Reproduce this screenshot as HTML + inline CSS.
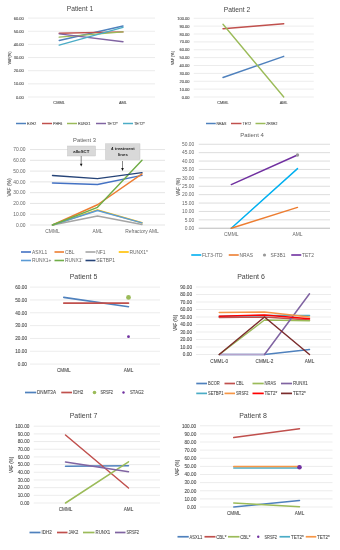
<!DOCTYPE html>
<html><head><meta charset="utf-8"><title>Figure</title>
<style>
html,body{margin:0;padding:0;background:#fff;}
svg{display:block;font-family:"Liberation Sans",sans-serif;}
</style></head><body>
<svg width="340" height="550" viewBox="0 0 340 550">
<rect width="340" height="550" fill="#fff"/>
<g style="filter:blur(0.3px)">
<g>
<text x="80.00" y="10.91" font-size="6.70" text-anchor="middle" fill="#454545">Patient 1</text>
<line x1="28.00" y1="97.00" x2="155.00" y2="97.00" stroke="#d9d9d9" stroke-width="0.5"/>
<text x="23.80" y="98.50" font-size="4.18" text-anchor="end" fill="#505050" stroke="#505050" stroke-width="0.1" textLength="7.80" lengthAdjust="spacingAndGlyphs">0.00</text>
<line x1="28.00" y1="83.85" x2="155.00" y2="83.85" stroke="#d9d9d9" stroke-width="0.5"/>
<text x="23.80" y="85.35" font-size="4.18" text-anchor="end" fill="#505050" stroke="#505050" stroke-width="0.1" textLength="10.03" lengthAdjust="spacingAndGlyphs">10.00</text>
<line x1="28.00" y1="70.70" x2="155.00" y2="70.70" stroke="#d9d9d9" stroke-width="0.5"/>
<text x="23.80" y="72.20" font-size="4.18" text-anchor="end" fill="#505050" stroke="#505050" stroke-width="0.1" textLength="10.03" lengthAdjust="spacingAndGlyphs">20.00</text>
<line x1="28.00" y1="57.55" x2="155.00" y2="57.55" stroke="#d9d9d9" stroke-width="0.5"/>
<text x="23.80" y="59.05" font-size="4.18" text-anchor="end" fill="#505050" stroke="#505050" stroke-width="0.1" textLength="10.03" lengthAdjust="spacingAndGlyphs">30.00</text>
<line x1="28.00" y1="44.40" x2="155.00" y2="44.40" stroke="#d9d9d9" stroke-width="0.5"/>
<text x="23.80" y="45.90" font-size="4.18" text-anchor="end" fill="#505050" stroke="#505050" stroke-width="0.1" textLength="10.03" lengthAdjust="spacingAndGlyphs">40.00</text>
<line x1="28.00" y1="31.25" x2="155.00" y2="31.25" stroke="#d9d9d9" stroke-width="0.5"/>
<text x="23.80" y="32.75" font-size="4.18" text-anchor="end" fill="#505050" stroke="#505050" stroke-width="0.1" textLength="10.03" lengthAdjust="spacingAndGlyphs">50.00</text>
<line x1="28.00" y1="18.10" x2="155.00" y2="18.10" stroke="#d9d9d9" stroke-width="0.5"/>
<text x="23.80" y="19.60" font-size="4.18" text-anchor="end" fill="#505050" stroke="#505050" stroke-width="0.1" textLength="10.03" lengthAdjust="spacingAndGlyphs">60.00</text>
<text x="59.20" y="104.30" font-size="4.18" text-anchor="middle" fill="#505050" stroke="#505050" stroke-width="0.1" textLength="11.72" lengthAdjust="spacingAndGlyphs">CMML</text>
<text x="123.00" y="104.30" font-size="4.18" text-anchor="middle" fill="#505050" stroke="#505050" stroke-width="0.1" textLength="8.16" lengthAdjust="spacingAndGlyphs">AML</text>
<polyline points="59.20,40.46 123.00,25.99" fill="none" stroke="#4f81bd" stroke-width="1.4" stroke-linecap="round" stroke-linejoin="round"/>
<polyline points="59.20,33.22 123.00,31.91" fill="none" stroke="#c0504d" stroke-width="1.4" stroke-linecap="round" stroke-linejoin="round"/>
<polyline points="59.20,37.17 123.00,31.91" fill="none" stroke="#9bbb59" stroke-width="1.4" stroke-linecap="round" stroke-linejoin="round"/>
<polyline points="59.20,33.88 123.00,41.77" fill="none" stroke="#8064a2" stroke-width="1.4" stroke-linecap="round" stroke-linejoin="round"/>
<polyline points="59.20,45.06 123.00,27.31" fill="none" stroke="#4bacc6" stroke-width="1.4" stroke-linecap="round" stroke-linejoin="round"/>
<line x1="16.00" y1="123.50" x2="26.00" y2="123.50" stroke="#4f81bd" stroke-width="1.5"/>
<text x="27.00" y="125.00" font-size="4.18" text-anchor="start" fill="#505050" stroke="#505050" stroke-width="0.1" textLength="9.18" lengthAdjust="spacingAndGlyphs">EZH2</text>
<line x1="42.00" y1="123.50" x2="52.00" y2="123.50" stroke="#c0504d" stroke-width="1.5"/>
<text x="53.00" y="125.00" font-size="4.18" text-anchor="start" fill="#505050" stroke="#505050" stroke-width="0.1" textLength="9.27" lengthAdjust="spacingAndGlyphs">PHF6</text>
<line x1="67.00" y1="123.50" x2="77.00" y2="123.50" stroke="#9bbb59" stroke-width="1.5"/>
<text x="78.00" y="125.00" font-size="4.18" text-anchor="start" fill="#505050" stroke="#505050" stroke-width="0.1" textLength="12.57" lengthAdjust="spacingAndGlyphs">RUNX1</text>
<line x1="96.00" y1="123.50" x2="106.00" y2="123.50" stroke="#8064a2" stroke-width="1.5"/>
<text x="107.00" y="125.00" font-size="4.18" text-anchor="start" fill="#505050" stroke="#505050" stroke-width="0.1" textLength="10.85" lengthAdjust="spacingAndGlyphs">TET2*</text>
<line x1="123.00" y1="123.50" x2="133.00" y2="123.50" stroke="#4bacc6" stroke-width="1.5"/>
<text x="134.00" y="125.00" font-size="4.18" text-anchor="start" fill="#505050" stroke="#505050" stroke-width="0.1" textLength="10.85" lengthAdjust="spacingAndGlyphs">TET2*</text>
<text transform="translate(11.00,58.00) rotate(-90)" font-size="4.18" text-anchor="middle" fill="#505050" textLength="12.87" lengthAdjust="spacingAndGlyphs" stroke="#505050" stroke-width="0.1">VAF(%)</text>
</g>
<g>
<text x="237.00" y="11.91" font-size="6.70" text-anchor="middle" fill="#454545">Patient 2</text>
<line x1="193.75" y1="97.00" x2="313.75" y2="97.00" stroke="#d9d9d9" stroke-width="0.5"/>
<text x="189.50" y="98.50" font-size="4.18" text-anchor="end" fill="#505050" stroke="#505050" stroke-width="0.1" textLength="7.80" lengthAdjust="spacingAndGlyphs">0.00</text>
<line x1="193.75" y1="89.12" x2="313.75" y2="89.12" stroke="#d9d9d9" stroke-width="0.5"/>
<text x="189.50" y="90.63" font-size="4.18" text-anchor="end" fill="#505050" stroke="#505050" stroke-width="0.1" textLength="10.03" lengthAdjust="spacingAndGlyphs">10.00</text>
<line x1="193.75" y1="81.25" x2="313.75" y2="81.25" stroke="#d9d9d9" stroke-width="0.5"/>
<text x="189.50" y="82.75" font-size="4.18" text-anchor="end" fill="#505050" stroke="#505050" stroke-width="0.1" textLength="10.03" lengthAdjust="spacingAndGlyphs">20.00</text>
<line x1="193.75" y1="73.38" x2="313.75" y2="73.38" stroke="#d9d9d9" stroke-width="0.5"/>
<text x="189.50" y="74.88" font-size="4.18" text-anchor="end" fill="#505050" stroke="#505050" stroke-width="0.1" textLength="10.03" lengthAdjust="spacingAndGlyphs">30.00</text>
<line x1="193.75" y1="65.50" x2="313.75" y2="65.50" stroke="#d9d9d9" stroke-width="0.5"/>
<text x="189.50" y="67.00" font-size="4.18" text-anchor="end" fill="#505050" stroke="#505050" stroke-width="0.1" textLength="10.03" lengthAdjust="spacingAndGlyphs">40.00</text>
<line x1="193.75" y1="57.62" x2="313.75" y2="57.62" stroke="#d9d9d9" stroke-width="0.5"/>
<text x="189.50" y="59.13" font-size="4.18" text-anchor="end" fill="#505050" stroke="#505050" stroke-width="0.1" textLength="10.03" lengthAdjust="spacingAndGlyphs">50.00</text>
<line x1="193.75" y1="49.75" x2="313.75" y2="49.75" stroke="#d9d9d9" stroke-width="0.5"/>
<text x="189.50" y="51.25" font-size="4.18" text-anchor="end" fill="#505050" stroke="#505050" stroke-width="0.1" textLength="10.03" lengthAdjust="spacingAndGlyphs">60.00</text>
<line x1="193.75" y1="41.88" x2="313.75" y2="41.88" stroke="#d9d9d9" stroke-width="0.5"/>
<text x="189.50" y="43.38" font-size="4.18" text-anchor="end" fill="#505050" stroke="#505050" stroke-width="0.1" textLength="10.03" lengthAdjust="spacingAndGlyphs">70.00</text>
<line x1="193.75" y1="34.00" x2="313.75" y2="34.00" stroke="#d9d9d9" stroke-width="0.5"/>
<text x="189.50" y="35.50" font-size="4.18" text-anchor="end" fill="#505050" stroke="#505050" stroke-width="0.1" textLength="10.03" lengthAdjust="spacingAndGlyphs">80.00</text>
<line x1="193.75" y1="26.12" x2="313.75" y2="26.12" stroke="#d9d9d9" stroke-width="0.5"/>
<text x="189.50" y="27.63" font-size="4.18" text-anchor="end" fill="#505050" stroke="#505050" stroke-width="0.1" textLength="10.03" lengthAdjust="spacingAndGlyphs">90.00</text>
<line x1="193.75" y1="18.25" x2="313.75" y2="18.25" stroke="#d9d9d9" stroke-width="0.5"/>
<text x="189.50" y="19.75" font-size="4.18" text-anchor="end" fill="#505050" stroke="#505050" stroke-width="0.1" textLength="12.26" lengthAdjust="spacingAndGlyphs">100.00</text>
<text x="223.00" y="104.30" font-size="4.18" text-anchor="middle" fill="#505050" stroke="#505050" stroke-width="0.1" textLength="11.72" lengthAdjust="spacingAndGlyphs">CMML</text>
<text x="283.75" y="104.30" font-size="4.18" text-anchor="middle" fill="#505050" stroke="#505050" stroke-width="0.1" textLength="8.16" lengthAdjust="spacingAndGlyphs">AML</text>
<polyline points="223.00,77.47 283.75,56.29" fill="none" stroke="#4f81bd" stroke-width="1.4" stroke-linecap="round" stroke-linejoin="round"/>
<polyline points="223.00,28.72 283.75,23.76" fill="none" stroke="#c0504d" stroke-width="1.4" stroke-linecap="round" stroke-linejoin="round"/>
<polyline points="223.00,24.23 283.75,97.00" fill="none" stroke="#9bbb59" stroke-width="1.4" stroke-linecap="round" stroke-linejoin="round"/>
<line x1="206.00" y1="123.50" x2="215.75" y2="123.50" stroke="#4f81bd" stroke-width="1.5"/>
<text x="216.50" y="125.00" font-size="4.18" text-anchor="start" fill="#505050" stroke="#505050" stroke-width="0.1" textLength="9.80" lengthAdjust="spacingAndGlyphs">NRAS</text>
<line x1="231.00" y1="123.50" x2="241.50" y2="123.50" stroke="#c0504d" stroke-width="1.5"/>
<text x="242.50" y="125.00" font-size="4.18" text-anchor="start" fill="#505050" stroke="#505050" stroke-width="0.1" textLength="8.66" lengthAdjust="spacingAndGlyphs">TET2</text>
<line x1="255.50" y1="123.50" x2="265.50" y2="123.50" stroke="#9bbb59" stroke-width="1.5"/>
<text x="266.30" y="125.00" font-size="4.18" text-anchor="start" fill="#505050" stroke="#505050" stroke-width="0.1" textLength="11.09" lengthAdjust="spacingAndGlyphs">ZRSR2</text>
<text transform="translate(174.00,58.00) rotate(-90)" font-size="4.18" text-anchor="middle" fill="#505050" textLength="13.87" lengthAdjust="spacingAndGlyphs" stroke="#505050" stroke-width="0.1">VAF (%)</text>
</g>
<g>
<text x="84.50" y="141.59" font-size="5.80" text-anchor="middle" fill="#606060">Patient 3</text>
<line x1="30.00" y1="225.00" x2="165.00" y2="225.00" stroke="#d4d4d4" stroke-width="0.6"/>
<text x="25.50" y="226.76" font-size="4.90" text-anchor="end" fill="#666666">0.00</text>
<line x1="30.00" y1="214.22" x2="165.00" y2="214.22" stroke="#d4d4d4" stroke-width="0.6"/>
<text x="25.50" y="215.98" font-size="4.90" text-anchor="end" fill="#666666">10.00</text>
<line x1="30.00" y1="203.44" x2="165.00" y2="203.44" stroke="#d4d4d4" stroke-width="0.6"/>
<text x="25.50" y="205.20" font-size="4.90" text-anchor="end" fill="#666666">20.00</text>
<line x1="30.00" y1="192.66" x2="165.00" y2="192.66" stroke="#d4d4d4" stroke-width="0.6"/>
<text x="25.50" y="194.42" font-size="4.90" text-anchor="end" fill="#666666">30.00</text>
<line x1="30.00" y1="181.88" x2="165.00" y2="181.88" stroke="#d4d4d4" stroke-width="0.6"/>
<text x="25.50" y="183.64" font-size="4.90" text-anchor="end" fill="#666666">40.00</text>
<line x1="30.00" y1="171.10" x2="165.00" y2="171.10" stroke="#d4d4d4" stroke-width="0.6"/>
<text x="25.50" y="172.86" font-size="4.90" text-anchor="end" fill="#666666">50.00</text>
<line x1="30.00" y1="160.32" x2="165.00" y2="160.32" stroke="#d4d4d4" stroke-width="0.6"/>
<text x="25.50" y="162.08" font-size="4.90" text-anchor="end" fill="#666666">60.00</text>
<line x1="30.00" y1="149.54" x2="165.00" y2="149.54" stroke="#d4d4d4" stroke-width="0.6"/>
<text x="25.50" y="151.30" font-size="4.90" text-anchor="end" fill="#666666">70.00</text>
<text x="52.50" y="233.26" font-size="4.90" text-anchor="middle" fill="#666666">CMML</text>
<text x="97.50" y="233.26" font-size="4.90" text-anchor="middle" fill="#666666">AML</text>
<text x="142.00" y="233.26" font-size="4.90" text-anchor="middle" fill="#666666">Refractory AML</text>
<polyline points="52.50,182.96 97.50,184.57 142.00,175.41" fill="none" stroke="#4472c4" stroke-width="1.45" stroke-linecap="round" stroke-linejoin="round"/>
<polyline points="52.50,225.00 97.50,204.73 142.00,173.80" fill="none" stroke="#ed7d31" stroke-width="1.45" stroke-linecap="round" stroke-linejoin="round"/>
<polyline points="52.50,225.00 97.50,216.05 142.00,224.46" fill="none" stroke="#a5a5a5" stroke-width="1.45" stroke-linecap="round" stroke-linejoin="round"/>
<polyline points="52.50,225.00 97.50,210.02 142.00,222.74" fill="none" stroke="#ffc000" stroke-width="1.45" stroke-linecap="round" stroke-linejoin="round"/>
<polyline points="52.50,225.00 97.50,210.55 142.00,222.84" fill="none" stroke="#5b9bd5" stroke-width="1.45" stroke-linecap="round" stroke-linejoin="round"/>
<polyline points="52.50,225.00 97.50,207.32 142.00,160.32" fill="none" stroke="#70ad47" stroke-width="1.45" stroke-linecap="round" stroke-linejoin="round"/>
<polyline points="52.50,175.41 97.50,178.65 142.00,172.61" fill="none" stroke="#264478" stroke-width="1.45" stroke-linecap="round" stroke-linejoin="round"/>
<line x1="21.00" y1="252.00" x2="31.00" y2="252.00" stroke="#4472c4" stroke-width="1.6"/>
<text x="32.00" y="253.76" font-size="4.90" text-anchor="start" fill="#666666">ASXL1</text>
<line x1="54.50" y1="252.00" x2="64.00" y2="252.00" stroke="#ed7d31" stroke-width="1.6"/>
<text x="65.00" y="253.76" font-size="4.90" text-anchor="start" fill="#666666">CBL</text>
<line x1="85.50" y1="252.00" x2="95.50" y2="252.00" stroke="#a5a5a5" stroke-width="1.6"/>
<text x="96.30" y="253.76" font-size="4.90" text-anchor="start" fill="#666666">NF1</text>
<line x1="118.75" y1="252.00" x2="128.75" y2="252.00" stroke="#ffc000" stroke-width="1.6"/>
<text x="129.50" y="253.76" font-size="4.90" text-anchor="start" fill="#666666">RUNX1*</text>
<line x1="21.00" y1="260.50" x2="31.00" y2="260.50" stroke="#5b9bd5" stroke-width="1.6"/>
<text x="32.00" y="262.26" font-size="4.90" text-anchor="start" fill="#666666">RUNX1+</text>
<line x1="54.50" y1="260.50" x2="64.00" y2="260.50" stroke="#70ad47" stroke-width="1.6"/>
<text x="65.00" y="262.26" font-size="4.90" text-anchor="start" fill="#666666">RUNX1'</text>
<line x1="85.50" y1="260.50" x2="95.50" y2="260.50" stroke="#264478" stroke-width="1.6"/>
<text x="96.30" y="262.26" font-size="4.90" text-anchor="start" fill="#666666">SETBP1</text>
<text transform="translate(11.30,187.50) rotate(-90)" font-size="4.90" text-anchor="middle" fill="#666666" stroke="#666666" stroke-width="0.1">VAF (%)</text>
</g>
<rect x="67.5" y="146" width="28" height="10" fill="#d9d9d9" stroke="#bdbdbd" stroke-width="0.4"/>
<text x="81.30" y="152.60" font-size="4.30" text-anchor="middle" fill="#222" font-weight="bold">alloSCT</text>
<rect x="105.5" y="143.8" width="34.5" height="15.7" fill="#d9d9d9" stroke="#bdbdbd" stroke-width="0.4"/>
<text x="122.90" y="149.90" font-size="4.40" text-anchor="middle" fill="#222" font-weight="bold">4 treatment</text>
<text x="122.90" y="155.90" font-size="4.40" text-anchor="middle" fill="#222" font-weight="bold">lines</text>
<line x1="81.20" y1="156.00" x2="81.20" y2="165.10" stroke="#111" stroke-width="0.5"/>
<polygon points="79.90,163.80 82.50,163.80 81.20,166.60" fill="#111"/>
<line x1="122.50" y1="161.00" x2="122.50" y2="169.40" stroke="#111" stroke-width="0.5"/>
<polygon points="121.20,168.10 123.80,168.10 122.50,170.90" fill="#111"/>
<g>
<text x="252.00" y="136.66" font-size="6.00" text-anchor="middle" fill="#606060">Patient 4</text>
<line x1="198.75" y1="228.25" x2="330.00" y2="228.25" stroke="#cfcfcf" stroke-width="0.7"/>
<text x="194.25" y="230.01" font-size="4.90" text-anchor="end" fill="#666666">0.00</text>
<line x1="198.75" y1="219.85" x2="330.00" y2="219.85" stroke="#cfcfcf" stroke-width="0.7"/>
<text x="194.25" y="221.61" font-size="4.90" text-anchor="end" fill="#666666">5.00</text>
<line x1="198.75" y1="211.45" x2="330.00" y2="211.45" stroke="#cfcfcf" stroke-width="0.7"/>
<text x="194.25" y="213.21" font-size="4.90" text-anchor="end" fill="#666666">10.00</text>
<line x1="198.75" y1="203.05" x2="330.00" y2="203.05" stroke="#cfcfcf" stroke-width="0.7"/>
<text x="194.25" y="204.81" font-size="4.90" text-anchor="end" fill="#666666">15.00</text>
<line x1="198.75" y1="194.65" x2="330.00" y2="194.65" stroke="#cfcfcf" stroke-width="0.7"/>
<text x="194.25" y="196.41" font-size="4.90" text-anchor="end" fill="#666666">20.00</text>
<line x1="198.75" y1="186.25" x2="330.00" y2="186.25" stroke="#cfcfcf" stroke-width="0.7"/>
<text x="194.25" y="188.01" font-size="4.90" text-anchor="end" fill="#666666">25.00</text>
<line x1="198.75" y1="177.85" x2="330.00" y2="177.85" stroke="#cfcfcf" stroke-width="0.7"/>
<text x="194.25" y="179.61" font-size="4.90" text-anchor="end" fill="#666666">30.00</text>
<line x1="198.75" y1="169.45" x2="330.00" y2="169.45" stroke="#cfcfcf" stroke-width="0.7"/>
<text x="194.25" y="171.21" font-size="4.90" text-anchor="end" fill="#666666">35.00</text>
<line x1="198.75" y1="161.05" x2="330.00" y2="161.05" stroke="#cfcfcf" stroke-width="0.7"/>
<text x="194.25" y="162.81" font-size="4.90" text-anchor="end" fill="#666666">40.00</text>
<line x1="198.75" y1="152.65" x2="330.00" y2="152.65" stroke="#cfcfcf" stroke-width="0.7"/>
<text x="194.25" y="154.41" font-size="4.90" text-anchor="end" fill="#666666">45.00</text>
<line x1="198.75" y1="144.25" x2="330.00" y2="144.25" stroke="#cfcfcf" stroke-width="0.7"/>
<text x="194.25" y="146.01" font-size="4.90" text-anchor="end" fill="#666666">50.00</text>
<line x1="198.75" y1="228.25" x2="330.00" y2="228.25" stroke="#bfbfbf" stroke-width="0.8"/>
<text x="231.25" y="236.26" font-size="4.90" text-anchor="middle" fill="#666666">CMML</text>
<text x="297.50" y="236.26" font-size="4.90" text-anchor="middle" fill="#666666">AML</text>
<polyline points="231.25,228.25 297.50,168.61" fill="none" stroke="#00b0f0" stroke-width="1.45" stroke-linecap="round" stroke-linejoin="round"/>
<polyline points="231.25,228.25 297.50,207.42" fill="none" stroke="#ed7d31" stroke-width="1.45" stroke-linecap="round" stroke-linejoin="round"/>
<polyline points="231.25,184.57 297.50,155.00" fill="none" stroke="#7030a0" stroke-width="1.45" stroke-linecap="round" stroke-linejoin="round"/>
<circle cx="297.50" cy="155.00" r="1.7" fill="#999999"/>
<line x1="191.25" y1="255.00" x2="201.25" y2="255.00" stroke="#00b0f0" stroke-width="1.6"/>
<text x="202.00" y="256.76" font-size="4.90" text-anchor="start" fill="#666666">FLT3-ITD</text>
<line x1="228.75" y1="255.00" x2="238.75" y2="255.00" stroke="#ed7d31" stroke-width="1.6"/>
<text x="239.50" y="256.76" font-size="4.90" text-anchor="start" fill="#666666">NRAS</text>
<circle cx="264.50" cy="255.00" r="1.6" fill="#999999"/>
<text x="270.50" y="256.76" font-size="4.90" text-anchor="start" fill="#666666">SF3B1</text>
<line x1="291.25" y1="255.00" x2="301.25" y2="255.00" stroke="#7030a0" stroke-width="1.6"/>
<text x="302.00" y="256.76" font-size="4.90" text-anchor="start" fill="#666666">TET2</text>
<text transform="translate(179.80,187.00) rotate(-90)" font-size="4.90" text-anchor="middle" fill="#666666" stroke="#666666" stroke-width="0.1">VAF (%)</text>
</g>
<g>
<text x="83.50" y="278.77" font-size="7.00" text-anchor="middle" fill="#454545">Patient 5</text>
<line x1="30.00" y1="364.10" x2="160.00" y2="364.10" stroke="#d9d9d9" stroke-width="0.5"/>
<text x="27.00" y="365.86" font-size="4.89" text-anchor="end" fill="#505050" stroke="#505050" stroke-width="0.1" textLength="9.13" lengthAdjust="spacingAndGlyphs">0.00</text>
<line x1="30.00" y1="351.27" x2="160.00" y2="351.27" stroke="#d9d9d9" stroke-width="0.5"/>
<text x="27.00" y="353.03" font-size="4.89" text-anchor="end" fill="#505050" stroke="#505050" stroke-width="0.1" textLength="11.74" lengthAdjust="spacingAndGlyphs">10.00</text>
<line x1="30.00" y1="338.44" x2="160.00" y2="338.44" stroke="#d9d9d9" stroke-width="0.5"/>
<text x="27.00" y="340.20" font-size="4.89" text-anchor="end" fill="#505050" stroke="#505050" stroke-width="0.1" textLength="11.74" lengthAdjust="spacingAndGlyphs">20.00</text>
<line x1="30.00" y1="325.61" x2="160.00" y2="325.61" stroke="#d9d9d9" stroke-width="0.5"/>
<text x="27.00" y="327.37" font-size="4.89" text-anchor="end" fill="#505050" stroke="#505050" stroke-width="0.1" textLength="11.74" lengthAdjust="spacingAndGlyphs">30.00</text>
<line x1="30.00" y1="312.78" x2="160.00" y2="312.78" stroke="#d9d9d9" stroke-width="0.5"/>
<text x="27.00" y="314.54" font-size="4.89" text-anchor="end" fill="#505050" stroke="#505050" stroke-width="0.1" textLength="11.74" lengthAdjust="spacingAndGlyphs">40.00</text>
<line x1="30.00" y1="299.95" x2="160.00" y2="299.95" stroke="#d9d9d9" stroke-width="0.5"/>
<text x="27.00" y="301.71" font-size="4.89" text-anchor="end" fill="#505050" stroke="#505050" stroke-width="0.1" textLength="11.74" lengthAdjust="spacingAndGlyphs">50.00</text>
<line x1="30.00" y1="287.12" x2="160.00" y2="287.12" stroke="#d9d9d9" stroke-width="0.5"/>
<text x="27.00" y="288.88" font-size="4.89" text-anchor="end" fill="#505050" stroke="#505050" stroke-width="0.1" textLength="11.74" lengthAdjust="spacingAndGlyphs">60.00</text>
<text x="63.75" y="371.76" font-size="4.89" text-anchor="middle" fill="#505050" stroke="#505050" stroke-width="0.1" textLength="13.71" lengthAdjust="spacingAndGlyphs">CMML</text>
<text x="128.50" y="371.76" font-size="4.89" text-anchor="middle" fill="#505050" stroke="#505050" stroke-width="0.1" textLength="9.55" lengthAdjust="spacingAndGlyphs">AML</text>
<polyline points="63.75,297.38 128.50,306.75" fill="none" stroke="#4f81bd" stroke-width="1.6" stroke-linecap="round" stroke-linejoin="round"/>
<polyline points="63.75,303.16 128.50,303.16" fill="none" stroke="#c0504d" stroke-width="1.6" stroke-linecap="round" stroke-linejoin="round"/>
<circle cx="128.50" cy="297.38" r="2.4" fill="#9bbb59"/>
<circle cx="128.50" cy="336.64" r="1.4" fill="#7030a0"/>
<line x1="25.00" y1="392.50" x2="36.25" y2="392.50" stroke="#4f81bd" stroke-width="1.7"/>
<text x="37.00" y="394.26" font-size="4.89" text-anchor="start" fill="#505050" stroke="#505050" stroke-width="0.1" textLength="19.00" lengthAdjust="spacingAndGlyphs">DNMT3A</text>
<line x1="61.25" y1="392.50" x2="72.00" y2="392.50" stroke="#c0504d" stroke-width="1.7"/>
<text x="73.00" y="394.26" font-size="4.89" text-anchor="start" fill="#505050" stroke="#505050" stroke-width="0.1" textLength="10.28" lengthAdjust="spacingAndGlyphs">IDH2</text>
<circle cx="94.50" cy="392.50" r="1.8" fill="#9bbb59"/>
<text x="100.50" y="394.26" font-size="4.89" text-anchor="start" fill="#505050" stroke="#505050" stroke-width="0.1" textLength="12.50" lengthAdjust="spacingAndGlyphs">SRSF2</text>
<circle cx="123.50" cy="392.50" r="1.2" fill="#7030a0"/>
<text x="130.00" y="394.26" font-size="4.89" text-anchor="start" fill="#505050" stroke="#505050" stroke-width="0.1" textLength="13.71" lengthAdjust="spacingAndGlyphs">STAG2</text>
</g>
<g>
<text x="251.00" y="278.52" font-size="7.00" text-anchor="middle" fill="#454545">Patient 6</text>
<line x1="196.00" y1="354.50" x2="331.00" y2="354.50" stroke="#d9d9d9" stroke-width="0.5"/>
<text x="192.00" y="356.26" font-size="4.89" text-anchor="end" fill="#505050" stroke="#505050" stroke-width="0.1" textLength="9.13" lengthAdjust="spacingAndGlyphs">0.00</text>
<line x1="196.00" y1="347.00" x2="331.00" y2="347.00" stroke="#d9d9d9" stroke-width="0.5"/>
<text x="192.00" y="348.76" font-size="4.89" text-anchor="end" fill="#505050" stroke="#505050" stroke-width="0.1" textLength="11.74" lengthAdjust="spacingAndGlyphs">10.00</text>
<line x1="196.00" y1="339.50" x2="331.00" y2="339.50" stroke="#d9d9d9" stroke-width="0.5"/>
<text x="192.00" y="341.26" font-size="4.89" text-anchor="end" fill="#505050" stroke="#505050" stroke-width="0.1" textLength="11.74" lengthAdjust="spacingAndGlyphs">20.00</text>
<line x1="196.00" y1="332.00" x2="331.00" y2="332.00" stroke="#d9d9d9" stroke-width="0.5"/>
<text x="192.00" y="333.76" font-size="4.89" text-anchor="end" fill="#505050" stroke="#505050" stroke-width="0.1" textLength="11.74" lengthAdjust="spacingAndGlyphs">30.00</text>
<line x1="196.00" y1="324.50" x2="331.00" y2="324.50" stroke="#d9d9d9" stroke-width="0.5"/>
<text x="192.00" y="326.26" font-size="4.89" text-anchor="end" fill="#505050" stroke="#505050" stroke-width="0.1" textLength="11.74" lengthAdjust="spacingAndGlyphs">40.00</text>
<line x1="196.00" y1="317.00" x2="331.00" y2="317.00" stroke="#d9d9d9" stroke-width="0.5"/>
<text x="192.00" y="318.76" font-size="4.89" text-anchor="end" fill="#505050" stroke="#505050" stroke-width="0.1" textLength="11.74" lengthAdjust="spacingAndGlyphs">50.00</text>
<line x1="196.00" y1="309.50" x2="331.00" y2="309.50" stroke="#d9d9d9" stroke-width="0.5"/>
<text x="192.00" y="311.26" font-size="4.89" text-anchor="end" fill="#505050" stroke="#505050" stroke-width="0.1" textLength="11.74" lengthAdjust="spacingAndGlyphs">60.00</text>
<line x1="196.00" y1="302.00" x2="331.00" y2="302.00" stroke="#d9d9d9" stroke-width="0.5"/>
<text x="192.00" y="303.76" font-size="4.89" text-anchor="end" fill="#505050" stroke="#505050" stroke-width="0.1" textLength="11.74" lengthAdjust="spacingAndGlyphs">70.00</text>
<line x1="196.00" y1="294.50" x2="331.00" y2="294.50" stroke="#d9d9d9" stroke-width="0.5"/>
<text x="192.00" y="296.26" font-size="4.89" text-anchor="end" fill="#505050" stroke="#505050" stroke-width="0.1" textLength="11.74" lengthAdjust="spacingAndGlyphs">80.00</text>
<line x1="196.00" y1="287.00" x2="331.00" y2="287.00" stroke="#d9d9d9" stroke-width="0.5"/>
<text x="192.00" y="288.76" font-size="4.89" text-anchor="end" fill="#505050" stroke="#505050" stroke-width="0.1" textLength="11.74" lengthAdjust="spacingAndGlyphs">90.00</text>
<text x="219.25" y="362.51" font-size="4.89" text-anchor="middle" fill="#505050" stroke="#505050" stroke-width="0.1" textLength="17.90" lengthAdjust="spacingAndGlyphs">CMML-0</text>
<text x="264.50" y="362.51" font-size="4.89" text-anchor="middle" fill="#505050" stroke="#505050" stroke-width="0.1" textLength="17.90" lengthAdjust="spacingAndGlyphs">CMML-2</text>
<text x="309.50" y="362.51" font-size="4.89" text-anchor="middle" fill="#505050" stroke="#505050" stroke-width="0.1" textLength="9.55" lengthAdjust="spacingAndGlyphs">AML</text>
<polyline points="219.25,354.50 264.50,354.50 309.50,349.48" fill="none" stroke="#4f81bd" stroke-width="1.5" stroke-linecap="round" stroke-linejoin="round"/>
<polyline points="219.25,317.38 264.50,317.00 309.50,320.00" fill="none" stroke="#c0504d" stroke-width="1.5" stroke-linecap="round" stroke-linejoin="round"/>
<polyline points="219.25,354.50 264.50,320.00 309.50,320.75" fill="none" stroke="#9bbb59" stroke-width="1.5" stroke-linecap="round" stroke-linejoin="round"/>
<polyline points="219.25,354.50 264.50,354.50" fill="none" stroke="#b5a3cc" stroke-width="1.5" stroke-linecap="round" stroke-linejoin="round"/>
<polyline points="264.50,354.50 309.50,293.75" fill="none" stroke="#8064a2" stroke-width="1.5" stroke-linecap="round" stroke-linejoin="round"/>
<polyline points="219.25,316.25 264.50,315.50 309.50,315.50" fill="none" stroke="#4bacc6" stroke-width="1.5" stroke-linecap="round" stroke-linejoin="round"/>
<polyline points="219.25,312.50 264.50,311.98 309.50,317.00" fill="none" stroke="#f79646" stroke-width="1.5" stroke-linecap="round" stroke-linejoin="round"/>
<polyline points="219.25,316.25 264.50,314.98 309.50,318.73" fill="none" stroke="#ff0000" stroke-width="1.5" stroke-linecap="round" stroke-linejoin="round"/>
<polyline points="219.25,354.50 264.50,317.00 309.50,354.50" fill="none" stroke="#7b2c2c" stroke-width="1.5" stroke-linecap="round" stroke-linejoin="round"/>
<line x1="196.25" y1="383.50" x2="207.00" y2="383.50" stroke="#4f81bd" stroke-width="1.7"/>
<text x="208.00" y="385.26" font-size="4.89" text-anchor="start" fill="#505050" stroke="#505050" stroke-width="0.1" textLength="11.75" lengthAdjust="spacingAndGlyphs">BCOR</text>
<line x1="224.50" y1="383.50" x2="235.00" y2="383.50" stroke="#c0504d" stroke-width="1.7"/>
<text x="236.00" y="385.26" font-size="4.89" text-anchor="start" fill="#505050" stroke="#505050" stroke-width="0.1" textLength="7.71" lengthAdjust="spacingAndGlyphs">CBL</text>
<line x1="252.50" y1="383.50" x2="263.75" y2="383.50" stroke="#9bbb59" stroke-width="1.7"/>
<text x="264.50" y="385.26" font-size="4.89" text-anchor="start" fill="#505050" stroke="#505050" stroke-width="0.1" textLength="11.47" lengthAdjust="spacingAndGlyphs">NRAS</text>
<line x1="281.00" y1="383.50" x2="292.00" y2="383.50" stroke="#8064a2" stroke-width="1.7"/>
<text x="293.00" y="385.26" font-size="4.89" text-anchor="start" fill="#505050" stroke="#505050" stroke-width="0.1" textLength="14.71" lengthAdjust="spacingAndGlyphs">RUNX1</text>
<line x1="196.25" y1="393.40" x2="207.00" y2="393.40" stroke="#4bacc6" stroke-width="1.7"/>
<text x="208.00" y="395.16" font-size="4.89" text-anchor="start" fill="#505050" stroke="#505050" stroke-width="0.1" textLength="15.46" lengthAdjust="spacingAndGlyphs">SETBP1</text>
<line x1="224.50" y1="393.40" x2="235.00" y2="393.40" stroke="#f79646" stroke-width="1.7"/>
<text x="236.00" y="395.16" font-size="4.89" text-anchor="start" fill="#505050" stroke="#505050" stroke-width="0.1" textLength="12.50" lengthAdjust="spacingAndGlyphs">SRSF2</text>
<line x1="252.50" y1="393.40" x2="263.75" y2="393.40" stroke="#ff0000" stroke-width="1.7"/>
<text x="264.50" y="395.16" font-size="4.89" text-anchor="start" fill="#505050" stroke="#505050" stroke-width="0.1" textLength="12.71" lengthAdjust="spacingAndGlyphs">TET2*</text>
<line x1="281.00" y1="393.40" x2="292.00" y2="393.40" stroke="#7b2c2c" stroke-width="1.7"/>
<text x="293.00" y="395.16" font-size="4.89" text-anchor="start" fill="#505050" stroke="#505050" stroke-width="0.1" textLength="12.71" lengthAdjust="spacingAndGlyphs">TET2*</text>
<text transform="translate(176.70,323.00) rotate(-90)" font-size="4.89" text-anchor="middle" fill="#505050" textLength="16.23" lengthAdjust="spacingAndGlyphs" stroke="#505050" stroke-width="0.1">VAF (%)</text>
</g>
<g>
<text x="83.50" y="418.02" font-size="7.00" text-anchor="middle" fill="#454545">Patient 7</text>
<line x1="33.75" y1="503.00" x2="160.00" y2="503.00" stroke="#d9d9d9" stroke-width="0.5"/>
<text x="29.50" y="504.76" font-size="4.89" text-anchor="end" fill="#505050" stroke="#505050" stroke-width="0.1" textLength="9.13" lengthAdjust="spacingAndGlyphs">0.00</text>
<line x1="33.75" y1="495.32" x2="160.00" y2="495.32" stroke="#d9d9d9" stroke-width="0.5"/>
<text x="29.50" y="497.08" font-size="4.89" text-anchor="end" fill="#505050" stroke="#505050" stroke-width="0.1" textLength="11.74" lengthAdjust="spacingAndGlyphs">10.00</text>
<line x1="33.75" y1="487.64" x2="160.00" y2="487.64" stroke="#d9d9d9" stroke-width="0.5"/>
<text x="29.50" y="489.40" font-size="4.89" text-anchor="end" fill="#505050" stroke="#505050" stroke-width="0.1" textLength="11.74" lengthAdjust="spacingAndGlyphs">20.00</text>
<line x1="33.75" y1="479.96" x2="160.00" y2="479.96" stroke="#d9d9d9" stroke-width="0.5"/>
<text x="29.50" y="481.72" font-size="4.89" text-anchor="end" fill="#505050" stroke="#505050" stroke-width="0.1" textLength="11.74" lengthAdjust="spacingAndGlyphs">30.00</text>
<line x1="33.75" y1="472.28" x2="160.00" y2="472.28" stroke="#d9d9d9" stroke-width="0.5"/>
<text x="29.50" y="474.04" font-size="4.89" text-anchor="end" fill="#505050" stroke="#505050" stroke-width="0.1" textLength="11.74" lengthAdjust="spacingAndGlyphs">40.00</text>
<line x1="33.75" y1="464.60" x2="160.00" y2="464.60" stroke="#d9d9d9" stroke-width="0.5"/>
<text x="29.50" y="466.36" font-size="4.89" text-anchor="end" fill="#505050" stroke="#505050" stroke-width="0.1" textLength="11.74" lengthAdjust="spacingAndGlyphs">50.00</text>
<line x1="33.75" y1="456.92" x2="160.00" y2="456.92" stroke="#d9d9d9" stroke-width="0.5"/>
<text x="29.50" y="458.68" font-size="4.89" text-anchor="end" fill="#505050" stroke="#505050" stroke-width="0.1" textLength="11.74" lengthAdjust="spacingAndGlyphs">60.00</text>
<line x1="33.75" y1="449.24" x2="160.00" y2="449.24" stroke="#d9d9d9" stroke-width="0.5"/>
<text x="29.50" y="451.00" font-size="4.89" text-anchor="end" fill="#505050" stroke="#505050" stroke-width="0.1" textLength="11.74" lengthAdjust="spacingAndGlyphs">70.00</text>
<line x1="33.75" y1="441.56" x2="160.00" y2="441.56" stroke="#d9d9d9" stroke-width="0.5"/>
<text x="29.50" y="443.32" font-size="4.89" text-anchor="end" fill="#505050" stroke="#505050" stroke-width="0.1" textLength="11.74" lengthAdjust="spacingAndGlyphs">80.00</text>
<line x1="33.75" y1="433.88" x2="160.00" y2="433.88" stroke="#d9d9d9" stroke-width="0.5"/>
<text x="29.50" y="435.64" font-size="4.89" text-anchor="end" fill="#505050" stroke="#505050" stroke-width="0.1" textLength="11.74" lengthAdjust="spacingAndGlyphs">90.00</text>
<line x1="33.75" y1="426.20" x2="160.00" y2="426.20" stroke="#d9d9d9" stroke-width="0.5"/>
<text x="29.50" y="427.96" font-size="4.89" text-anchor="end" fill="#505050" stroke="#505050" stroke-width="0.1" textLength="14.35" lengthAdjust="spacingAndGlyphs">100.00</text>
<text x="65.50" y="511.26" font-size="4.89" text-anchor="middle" fill="#505050" stroke="#505050" stroke-width="0.1" textLength="13.71" lengthAdjust="spacingAndGlyphs">CMML</text>
<text x="128.50" y="511.26" font-size="4.89" text-anchor="middle" fill="#505050" stroke="#505050" stroke-width="0.1" textLength="9.55" lengthAdjust="spacingAndGlyphs">AML</text>
<polyline points="65.50,466.21 128.50,465.75" fill="none" stroke="#4f81bd" stroke-width="1.5" stroke-linecap="round" stroke-linejoin="round"/>
<polyline points="65.50,435.03 128.50,488.02" fill="none" stroke="#c0504d" stroke-width="1.5" stroke-linecap="round" stroke-linejoin="round"/>
<polyline points="65.50,503.00 128.50,461.76" fill="none" stroke="#9bbb59" stroke-width="1.5" stroke-linecap="round" stroke-linejoin="round"/>
<polyline points="65.50,461.99 128.50,471.74" fill="none" stroke="#8064a2" stroke-width="1.5" stroke-linecap="round" stroke-linejoin="round"/>
<line x1="29.50" y1="532.50" x2="40.50" y2="532.50" stroke="#4f81bd" stroke-width="1.7"/>
<text x="41.50" y="534.26" font-size="4.89" text-anchor="start" fill="#505050" stroke="#505050" stroke-width="0.1" textLength="10.28" lengthAdjust="spacingAndGlyphs">IDH2</text>
<line x1="57.00" y1="532.50" x2="67.50" y2="532.50" stroke="#c0504d" stroke-width="1.7"/>
<text x="68.50" y="534.26" font-size="4.89" text-anchor="start" fill="#505050" stroke="#505050" stroke-width="0.1" textLength="9.91" lengthAdjust="spacingAndGlyphs">JAK2</text>
<line x1="83.00" y1="532.50" x2="94.50" y2="532.50" stroke="#9bbb59" stroke-width="1.7"/>
<text x="95.50" y="534.26" font-size="4.89" text-anchor="start" fill="#505050" stroke="#505050" stroke-width="0.1" textLength="14.71" lengthAdjust="spacingAndGlyphs">RUNX1</text>
<line x1="115.00" y1="532.50" x2="125.50" y2="532.50" stroke="#8064a2" stroke-width="1.7"/>
<text x="126.50" y="534.26" font-size="4.89" text-anchor="start" fill="#505050" stroke="#505050" stroke-width="0.1" textLength="12.50" lengthAdjust="spacingAndGlyphs">SRSF2</text>
<text transform="translate(12.60,465.00) rotate(-90)" font-size="4.89" text-anchor="middle" fill="#505050" textLength="16.23" lengthAdjust="spacingAndGlyphs" stroke="#505050" stroke-width="0.1">VAF (%)</text>
</g>
<g>
<text x="253.00" y="418.02" font-size="7.00" text-anchor="middle" fill="#454545">Patient 8</text>
<line x1="200.00" y1="507.00" x2="332.50" y2="507.00" stroke="#d9d9d9" stroke-width="0.5"/>
<text x="196.25" y="508.76" font-size="4.89" text-anchor="end" fill="#505050" stroke="#505050" stroke-width="0.1" textLength="9.13" lengthAdjust="spacingAndGlyphs">0.00</text>
<line x1="200.00" y1="498.88" x2="332.50" y2="498.88" stroke="#d9d9d9" stroke-width="0.5"/>
<text x="196.25" y="500.64" font-size="4.89" text-anchor="end" fill="#505050" stroke="#505050" stroke-width="0.1" textLength="11.74" lengthAdjust="spacingAndGlyphs">10.00</text>
<line x1="200.00" y1="490.75" x2="332.50" y2="490.75" stroke="#d9d9d9" stroke-width="0.5"/>
<text x="196.25" y="492.51" font-size="4.89" text-anchor="end" fill="#505050" stroke="#505050" stroke-width="0.1" textLength="11.74" lengthAdjust="spacingAndGlyphs">20.00</text>
<line x1="200.00" y1="482.62" x2="332.50" y2="482.62" stroke="#d9d9d9" stroke-width="0.5"/>
<text x="196.25" y="484.39" font-size="4.89" text-anchor="end" fill="#505050" stroke="#505050" stroke-width="0.1" textLength="11.74" lengthAdjust="spacingAndGlyphs">30.00</text>
<line x1="200.00" y1="474.50" x2="332.50" y2="474.50" stroke="#d9d9d9" stroke-width="0.5"/>
<text x="196.25" y="476.26" font-size="4.89" text-anchor="end" fill="#505050" stroke="#505050" stroke-width="0.1" textLength="11.74" lengthAdjust="spacingAndGlyphs">40.00</text>
<line x1="200.00" y1="466.38" x2="332.50" y2="466.38" stroke="#d9d9d9" stroke-width="0.5"/>
<text x="196.25" y="468.14" font-size="4.89" text-anchor="end" fill="#505050" stroke="#505050" stroke-width="0.1" textLength="11.74" lengthAdjust="spacingAndGlyphs">50.00</text>
<line x1="200.00" y1="458.25" x2="332.50" y2="458.25" stroke="#d9d9d9" stroke-width="0.5"/>
<text x="196.25" y="460.01" font-size="4.89" text-anchor="end" fill="#505050" stroke="#505050" stroke-width="0.1" textLength="11.74" lengthAdjust="spacingAndGlyphs">60.00</text>
<line x1="200.00" y1="450.12" x2="332.50" y2="450.12" stroke="#d9d9d9" stroke-width="0.5"/>
<text x="196.25" y="451.89" font-size="4.89" text-anchor="end" fill="#505050" stroke="#505050" stroke-width="0.1" textLength="11.74" lengthAdjust="spacingAndGlyphs">70.00</text>
<line x1="200.00" y1="442.00" x2="332.50" y2="442.00" stroke="#d9d9d9" stroke-width="0.5"/>
<text x="196.25" y="443.76" font-size="4.89" text-anchor="end" fill="#505050" stroke="#505050" stroke-width="0.1" textLength="11.74" lengthAdjust="spacingAndGlyphs">80.00</text>
<line x1="200.00" y1="433.88" x2="332.50" y2="433.88" stroke="#d9d9d9" stroke-width="0.5"/>
<text x="196.25" y="435.64" font-size="4.89" text-anchor="end" fill="#505050" stroke="#505050" stroke-width="0.1" textLength="11.74" lengthAdjust="spacingAndGlyphs">90.00</text>
<line x1="200.00" y1="425.75" x2="332.50" y2="425.75" stroke="#d9d9d9" stroke-width="0.5"/>
<text x="196.25" y="427.51" font-size="4.89" text-anchor="end" fill="#505050" stroke="#505050" stroke-width="0.1" textLength="14.35" lengthAdjust="spacingAndGlyphs">100.00</text>
<text x="233.75" y="515.06" font-size="4.89" text-anchor="middle" fill="#505050" stroke="#505050" stroke-width="0.1" textLength="13.71" lengthAdjust="spacingAndGlyphs">CMML</text>
<text x="299.50" y="515.06" font-size="4.89" text-anchor="middle" fill="#505050" stroke="#505050" stroke-width="0.1" textLength="9.55" lengthAdjust="spacingAndGlyphs">AML</text>
<polyline points="233.75,507.00 299.50,500.50" fill="none" stroke="#4f81bd" stroke-width="1.5" stroke-linecap="round" stroke-linejoin="round"/>
<polyline points="233.75,437.53 299.50,428.76" fill="none" stroke="#c0504d" stroke-width="1.5" stroke-linecap="round" stroke-linejoin="round"/>
<polyline points="233.75,502.94 299.50,506.76" fill="none" stroke="#9bbb59" stroke-width="1.5" stroke-linecap="round" stroke-linejoin="round"/>
<polyline points="233.75,468.00 299.50,468.00" fill="none" stroke="#4bacc6" stroke-width="1.5" stroke-linecap="round" stroke-linejoin="round"/>
<polyline points="233.75,466.54 299.50,466.54" fill="none" stroke="#f79646" stroke-width="1.5" stroke-linecap="round" stroke-linejoin="round"/>
<circle cx="299.50" cy="467.19" r="2.3" fill="#7030a0"/>
<line x1="177.50" y1="536.75" x2="188.75" y2="536.75" stroke="#4f81bd" stroke-width="1.7"/>
<text x="189.50" y="538.51" font-size="4.89" text-anchor="start" fill="#505050" stroke="#505050" stroke-width="0.1" textLength="12.79" lengthAdjust="spacingAndGlyphs">ASXL1</text>
<line x1="204.50" y1="536.75" x2="215.50" y2="536.75" stroke="#c0504d" stroke-width="1.7"/>
<text x="216.20" y="538.51" font-size="4.89" text-anchor="start" fill="#505050" stroke="#505050" stroke-width="0.1" textLength="10.27" lengthAdjust="spacingAndGlyphs">CBL*</text>
<line x1="228.00" y1="536.75" x2="239.50" y2="536.75" stroke="#9bbb59" stroke-width="1.7"/>
<text x="240.20" y="538.51" font-size="4.89" text-anchor="start" fill="#505050" stroke="#505050" stroke-width="0.1" textLength="10.27" lengthAdjust="spacingAndGlyphs">CBL*</text>
<circle cx="258.25" cy="536.75" r="1.2" fill="#7030a0"/>
<text x="264.50" y="538.51" font-size="4.89" text-anchor="start" fill="#505050" stroke="#505050" stroke-width="0.1" textLength="12.50" lengthAdjust="spacingAndGlyphs">SRSF2</text>
<line x1="279.50" y1="536.75" x2="290.00" y2="536.75" stroke="#4bacc6" stroke-width="1.7"/>
<text x="291.00" y="538.51" font-size="4.89" text-anchor="start" fill="#505050" stroke="#505050" stroke-width="0.1" textLength="12.71" lengthAdjust="spacingAndGlyphs">TET2*</text>
<line x1="305.75" y1="536.75" x2="316.25" y2="536.75" stroke="#f79646" stroke-width="1.7"/>
<text x="317.00" y="538.51" font-size="4.89" text-anchor="start" fill="#505050" stroke="#505050" stroke-width="0.1" textLength="12.71" lengthAdjust="spacingAndGlyphs">TET2*</text>
<text transform="translate(178.60,468.00) rotate(-90)" font-size="4.89" text-anchor="middle" fill="#505050" textLength="16.23" lengthAdjust="spacingAndGlyphs" stroke="#505050" stroke-width="0.1">VAF (%)</text>
</g>
</g>
</svg>
</body></html>
